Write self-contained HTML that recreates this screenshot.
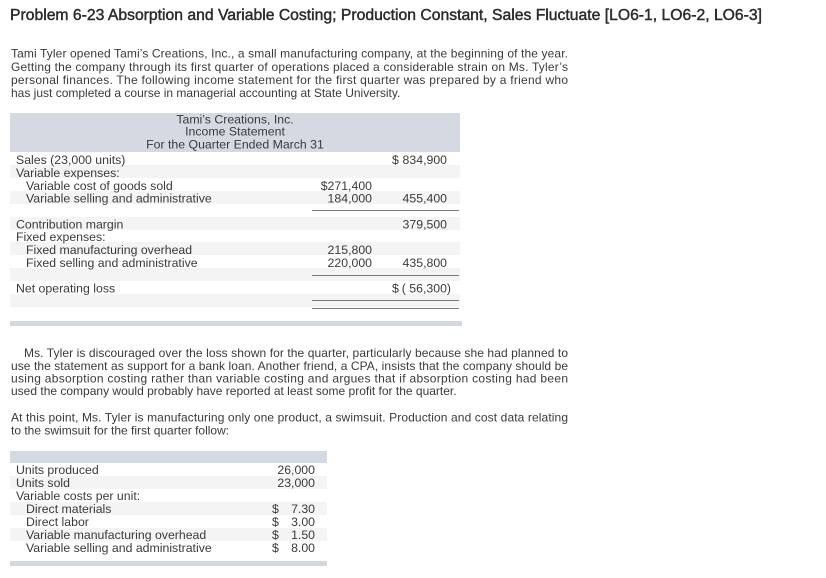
<!DOCTYPE html>
<html>
<head>
<meta charset="utf-8">
<style>
  html,body{margin:0;padding:0;background:#fff;}
  svg{display:block;}
  text{font-family:"Liberation Sans",Arial,sans-serif;}
  .t{font-size:12.3px;fill:#3a3a3a;}
  .p{font-size:12px;fill:#3a3a3a;}
</style>
</head>
<body>
<svg width="826" height="578" viewBox="0 0 826 578" xmlns="http://www.w3.org/2000/svg">
  <rect x="0" y="0" width="826" height="578" fill="#fff"/>

  <!-- Title -->
  <text x="10" y="20" font-size="15.5" fill="#2b2b2b" stroke="#2b2b2b" stroke-width="0.45" textLength="752" lengthAdjust="spacingAndGlyphs">Problem 6-23 Absorption and Variable Costing; Production Constant, Sales Fluctuate [LO6-1, LO6-2, LO6-3]</text>

  <!-- Paragraph 1 -->
  <text class="p" x="11" y="57.5" textLength="557" lengthAdjust="spacing">Tami Tyler opened Tami’s Creations, Inc., a small manufacturing company, at the beginning of the year.</text>
  <text class="p" x="11" y="70.8" textLength="557" lengthAdjust="spacing">Getting the company through its first quarter of operations placed a considerable strain on Ms. Tyler’s</text>
  <text class="p" x="11" y="84" textLength="557" lengthAdjust="spacing">personal finances. The following income statement for the first quarter was prepared by a friend who</text>
  <text class="p" x="11" y="97.2">has just completed a course in managerial accounting at State University.</text>

  <!-- Income statement table -->
  <g shape-rendering="crispEdges">
    <rect x="10" y="113" width="450" height="39" fill="#d5d9e2"/>
    <rect x="10" y="165" width="450" height="13" fill="#f4f4f4"/>
    <rect x="10" y="191" width="450" height="13" fill="#f4f4f4"/>
    <rect x="10" y="217" width="450" height="13" fill="#f4f4f4"/>
    <rect x="10" y="242" width="450" height="13" fill="#f4f4f4"/>
    <rect x="10" y="268" width="450" height="13" fill="#f4f4f4"/>
    <rect x="10" y="294" width="450" height="13" fill="#f4f4f4"/>
    <rect x="312" y="210" width="147" height="1" fill="#7a7a7a"/>
    <rect x="312" y="275" width="147" height="1" fill="#7a7a7a"/>
    <rect x="312" y="300" width="147" height="1" fill="#7a7a7a"/>
    <rect x="312" y="308" width="147" height="1" fill="#7a7a7a"/>
    <rect x="10" y="321" width="452" height="5" fill="#d3d7df"/>
  </g>
  <text class="t" x="235" y="123.5" text-anchor="middle">Tami’s Creations, Inc.</text>
  <text class="t" x="235" y="135.5" text-anchor="middle">Income Statement</text>
  <text class="t" x="235" y="148.5" text-anchor="middle">For the Quarter Ended March 31</text>

  <text class="t" x="16" y="164.2">Sales (23,000 units)</text>
  <text class="t" x="392" y="164.2">$</text>
  <text class="t" x="447" y="164.2" text-anchor="end">834,900</text>

  <text class="t" x="16" y="177">Variable expenses:</text>

  <text class="t" x="26" y="189.9">Variable cost of goods sold</text>
  <text class="t" x="372" y="189.9" text-anchor="end">$271,400</text>

  <text class="t" x="26" y="202.7">Variable selling and administrative</text>
  <text class="t" x="372" y="202.7" text-anchor="end">184,000</text>
  <text class="t" x="447" y="202.7" text-anchor="end">455,400</text>

  <text class="t" x="16" y="228.4">Contribution margin</text>
  <text class="t" x="447" y="228.4" text-anchor="end">379,500</text>

  <text class="t" x="16" y="241.2">Fixed expenses:</text>

  <text class="t" x="26" y="254.1">Fixed manufacturing overhead</text>
  <text class="t" x="372" y="254.1" text-anchor="end">215,800</text>

  <text class="t" x="26" y="266.9">Fixed selling and administrative</text>
  <text class="t" x="372" y="266.9" text-anchor="end">220,000</text>
  <text class="t" x="447" y="266.9" text-anchor="end">435,800</text>

  <text class="t" x="16" y="292.6">Net operating loss</text>
  <text class="t" x="392" y="292.6">$</text>
  <text class="t" x="451" y="292.6" text-anchor="end">( 56,300)</text>

  <!-- Paragraph 2 -->
  <text class="p" x="24" y="357" textLength="544" lengthAdjust="spacing">Ms. Tyler is discouraged over the loss shown for the quarter, particularly because she had planned to</text>
  <text class="p" x="11" y="369.8" textLength="557" lengthAdjust="spacing">use the statement as support for a bank loan. Another friend, a CPA, insists that the company should be</text>
  <text class="p" x="11" y="382.3" textLength="557" lengthAdjust="spacing">using absorption costing rather than variable costing and argues that if absorption costing had been</text>
  <text class="p" x="11" y="395.2">used the company would probably have reported at least some profit for the quarter.</text>

  <text class="p" x="11" y="421.7" textLength="557" lengthAdjust="spacing">At this point, Ms. Tyler is manufacturing only one product, a swimsuit. Production and cost data relating</text>
  <text class="p" x="11" y="434.5">to the swimsuit for the first quarter follow:</text>

  <!-- Production data table -->
  <g shape-rendering="crispEdges">
    <rect x="10" y="451" width="317" height="12" fill="#d5d9e2"/>
    <rect x="10" y="476" width="317" height="13" fill="#f4f4f4"/>
    <rect x="10" y="502" width="317" height="13" fill="#f4f4f4"/>
    <rect x="10" y="528" width="317" height="13" fill="#f4f4f4"/>
    <rect x="10" y="561" width="317" height="5" fill="#d3d7df"/>
  </g>
  <text class="t" x="16" y="474">Units produced</text>
  <text class="t" x="315" y="474" text-anchor="end">26,000</text>
  <text class="t" x="16" y="487">Units sold</text>
  <text class="t" x="315" y="487" text-anchor="end">23,000</text>
  <text class="t" x="16" y="500">Variable costs per unit:</text>
  <text class="t" x="26" y="513">Direct materials</text>
  <text class="t" x="272" y="513">$</text>
  <text class="t" x="315" y="513" text-anchor="end">7.30</text>
  <text class="t" x="26" y="526">Direct labor</text>
  <text class="t" x="272" y="526">$</text>
  <text class="t" x="315" y="526" text-anchor="end">3.00</text>
  <text class="t" x="26" y="539">Variable manufacturing overhead</text>
  <text class="t" x="272" y="539">$</text>
  <text class="t" x="315" y="539" text-anchor="end">1.50</text>
  <text class="t" x="26" y="552">Variable selling and administrative</text>
  <text class="t" x="272" y="552">$</text>
  <text class="t" x="315" y="552" text-anchor="end">8.00</text>
</svg>
</body>
</html>
